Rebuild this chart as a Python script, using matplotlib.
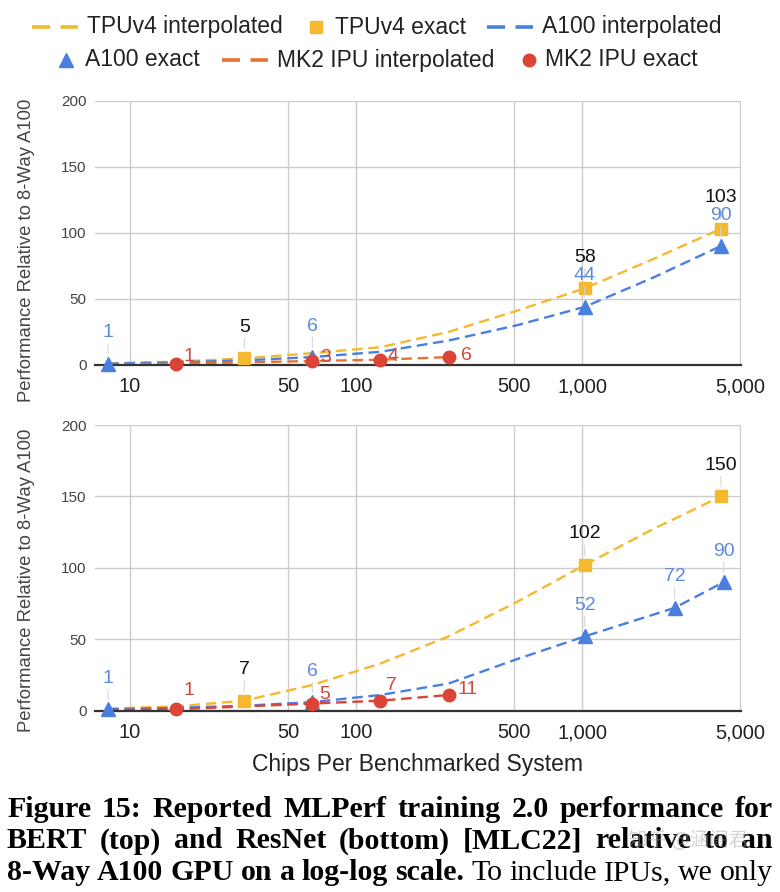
import matplotlib; matplotlib.use("Agg")
import matplotlib.pyplot as plt
from matplotlib.lines import Line2D
from matplotlib.ticker import NullLocator
plt.rcParams["font.family"] = ["Liberation Sans", "DejaVu Sans"]

# ----------------------------- 数据 -----------------------------
x_pow2 = [8, 16, 32, 64, 128, 256, 512, 1024, 2048, 4096]
x_ipu_interp = [8, 16, 32, 64, 128, 256]
xticks = [10, 50, 100, 500, 1000, 5000]
xtick_labels = ["10", "50", "100", "500", "1,000", "5,000"]
yticks = [0, 50, 100, 150, 200]

# BERT (top)
bert_tpu_interp = [1.3, 2.5, 5, 9, 13.5, 25, 41, 58, 80, 103]
bert_a100_interp = [1, 2, 3.5, 6, 10, 18.5, 30, 44, 66, 90]
bert_ipu_interp = [0.5, 1, 2, 3, 4, 6]
bert_tpu_x, bert_tpu_y = [32, 1024, 4096], [5, 58, 103]
bert_a100_x, bert_a100_y = [8, 64, 1024, 4096], [1, 6, 44, 90]
bert_ipu_x, bert_ipu_y = [16, 64, 128, 256], [1, 3, 4, 6]

# ResNet (bottom)
resnet_a100_interp_x = [8, 16, 32, 64, 128, 256, 512, 1024, 2560, 4216]
resnet_tpu_interp = [1.5, 3, 7, 18, 33, 52, 76, 102, 127, 150]
resnet_a100_interp = [1, 2, 3.5, 6, 11, 19, 36, 52, 72, 90]
resnet_ipu_interp = [0.5, 1, 3, 5, 7, 11]
resnet_tpu_x, resnet_tpu_y = [32, 1024, 4096], [7, 102, 150]
resnet_a100_x, resnet_a100_y = [8, 64, 1024, 2560, 4216], [1, 6, 52, 72, 90]
resnet_ipu_x, resnet_ipu_y = [16, 64, 128, 256], [1, 5, 7, 11]

legend_labels = ["TPUv4 interpolated", "TPUv4 exact", "A100 interpolated",
                 "A100 exact", "MK2 IPU interpolated", "MK2 IPU exact"]

# IPU 标签偏移(像素)
bert_ipu_off = [(13, 7), (13, 4), (13, 3), (18, 2)]
resnet_ipu_off = [(13, 19), (12, 9), (11, 15), (19, 5)]

C_TPU, C_A100, C_IPU_L, C_IPU = "#f4b92e", "#4a7fe0", "#e8712f", "#db4437"
C_A100_TXT, C_IPU_TXT = "#5b8be0", "#cc4a3d"
DASH = (0, (4.5, 2.4))

W, H = 780, 892
fig = plt.figure(figsize=(W / 100, H / 100), dpi=100)


def panel(rect, tpu_i, a100_ix, a100_i, ipu_i, ipu_line_c,
          tpu_x, tpu_y, a100_x, a100_y, ipu_x, ipu_y, ipu_off, ylab_y):
    ax = fig.add_axes(rect)
    ax.plot(x_pow2, tpu_i, color=C_TPU, lw=1.7, ls=DASH, zorder=3)
    ax.plot(a100_ix, a100_i, color=C_A100, lw=1.7, ls=DASH, zorder=3)
    ax.plot(x_ipu_interp, ipu_i, color=ipu_line_c, lw=1.7, ls=DASH, zorder=3)
    ax.plot(tpu_x, tpu_y, "s", color=C_TPU, ms=9, ls="none", zorder=5, clip_on=False)
    ax.plot(a100_x, a100_y, "^", color=C_A100, ms=9.5, ls="none", zorder=5, clip_on=False)
    ax.plot(ipu_x, ipu_y, "o", color=C_IPU, ms=9, ls="none", zorder=5, clip_on=False)
    lead = dict(arrowstyle="-", color="#d6d6d6", lw=0.8, shrinkA=0, shrinkB=7)
    for xs, ys, c in [(tpu_x, tpu_y, "#111111"), (a100_x, a100_y, C_A100_TXT)]:
        for x, y in zip(xs, ys):
            ax.annotate(str(y), (x, y), xytext=(0, 31), textcoords="offset pixels",
                        ha="center", va="center", fontsize=14, color=c,
                        arrowprops=lead, zorder=6)
    for (x, y), (dx, dy) in zip(zip(ipu_x, ipu_y), ipu_off):
        ax.annotate(str(y), (x, y), xytext=(dx, dy), textcoords="offset pixels",
                    ha="center", va="center", fontsize=14, color=C_IPU_TXT, zorder=6)
    ax.set_xscale("log")
    ax.set_xlim(7, 5030); ax.set_ylim(0, 200)
    ax.set_xticks(xticks); ax.set_xticklabels(xtick_labels)
    ax.xaxis.set_minor_locator(NullLocator())
    ax.set_yticks(yticks)
    ax.tick_params(axis="x", length=0, pad=9, labelsize=14.5, labelcolor="#222222")
    ax.tick_params(axis="y", length=0, pad=6, labelsize=11, labelcolor="#444444")
    ax.grid(True, color="#cccccc", lw=1, zorder=0)
    for s in ["top", "right", "left"]:
        ax.spines[s].set_visible(False)
    ax.spines["bottom"].set_color("#333333"); ax.spines["bottom"].set_linewidth(1.6)
    ax.spines["bottom"].set_zorder(4)
    ax.set_ylabel("Performance Relative to 8-Way A100", fontsize=13.3, color="#444444")
    ax.yaxis.set_label_coords(-0.093, ylab_y)
    return ax


panel([95 / W, 1 - 365 / H, 646 / W, 264.3 / H],
      bert_tpu_interp, x_pow2, bert_a100_interp, bert_ipu_interp, C_IPU_L,
      bert_tpu_x, bert_tpu_y, bert_a100_x, bert_a100_y, bert_ipu_x, bert_ipu_y,
      bert_ipu_off, 0.435)
ax2 = panel([95 / W, 1 - 710.7 / H, 646 / W, 285.7 / H],
            resnet_tpu_interp, resnet_a100_interp_x, resnet_a100_interp, resnet_ipu_interp, C_IPU,
            resnet_tpu_x, resnet_tpu_y, resnet_a100_x, resnet_a100_y, resnet_ipu_x, resnet_ipu_y,
            resnet_ipu_off, 0.457)
ax2.set_xlabel("Chips Per Benchmarked System", fontsize=16.5, color="#222222", labelpad=8)

# 图例:两行,手工摆放(像素位置)
leg_dash = dict(lw=2.6, ls=(0, (5.0, 2.9)), solid_capstyle="butt", dash_capstyle="butt")
leg_items = [  # (row_y, handle, text_x)
    (27, dict(x=(32, 78), color=C_TPU, **leg_dash), 87),
    (27, dict(x=(316,), color=C_TPU, marker="s", ms=9), 335),
    (27, dict(x=(487, 533), color=C_A100, **leg_dash), 542),
    (60, dict(x=(66,), color=C_A100, marker="^", ms=9.5), 85),
    (60, dict(x=(222, 268), color=C_IPU_L, **leg_dash), 277),
    (60, dict(x=(529,), color=C_IPU, marker="o", ms=9), 545),
]
for (yy, hd, tx), lab in zip(leg_items, legend_labels):
    hd = dict(hd); xs = hd.pop("x")
    ln = Line2D([x / W for x in xs], [1 - yy / H] * len(xs), transform=fig.transFigure,
                ls=hd.pop("ls", "none"), **hd)
    fig.add_artist(ln)
    fig.text(tx / W, 1 - yy / H, lab, fontsize=16.5, color="#222222", ha="left", va="center")

# ----------------------------- 图注(两端对齐) -----------------------------
SERIF = ["Liberation Serif", "DejaVu Serif"]
caption = [
    ([("Figure", "bold"), ("15:", "bold"), ("Reported", "bold"), ("MLPerf", "bold"),
      ("training", "bold"), ("2.0", "bold"), ("performance", "bold"), ("for", "bold")], 817),
    ([("BERT", "bold"), ("(top)", "bold"), ("and", "bold"), ("ResNet", "bold"),
      ("(bottom)", "bold"), ("[MLC22]", "bold"), ("relative", "bold"), ("to", "bold"), ("an", "bold")], 848.5),
    ([("8-Way", "bold"), ("A100", "bold"), ("GPU", "bold"), ("on", "bold"), ("a", "bold"),
      ("log-log", "bold"), ("scale.", "bold"), ("To", "normal"), ("include", "normal"),
      ("IPUs,", "normal"), ("we", "normal"), ("only", "normal")], 880),
]
x0, x1 = 7, 773
renderer = fig.canvas.get_renderer()
size = 21.5
for words, base in caption:
    ts = [fig.text(0, 1 - base / H, w, fontsize=size, fontweight=wt, family=SERIF,
                   va="baseline", ha="left", color="#000000") for w, wt in words]
    widths = [t.get_window_extent(renderer).width for t in ts]
    need = sum(widths) + 5 * (len(ts) - 1)
    if need > x1 - x0:
        scale = (x1 - x0) / need
        for t in ts:
            t.set_fontsize(size * scale)
        widths = [t.get_window_extent(renderer).width for t in ts]
    gap = (x1 - x0 - sum(widths)) / (len(ts) - 1)
    x = x0
    for t, w in zip(ts, widths):
        t.set_x(x / W); x += w + gap

fig.text(688 / W, 1 - 840 / H, "知乎 @涵阁君", fontsize=14, color="#a0a0a0", alpha=0.45,
         ha="center", va="center", family=["Noto Sans CJK SC", "DejaVu Sans"])

fig.savefig("out.png", dpi=100)
